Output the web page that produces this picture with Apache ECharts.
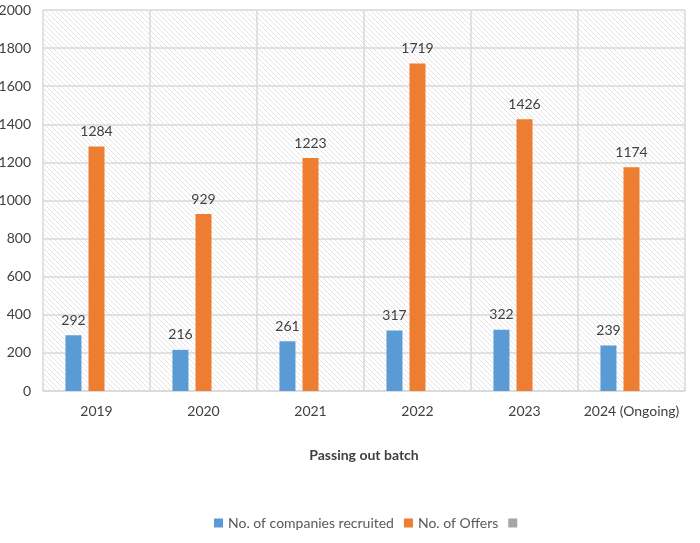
<!DOCTYPE html>
<html>
<head>
<meta charset="utf-8">
<script src="https://cdn.jsdelivr.net/npm/echarts@6/dist/echarts.min.js"></script>
<style>
  html, body { margin: 0; padding: 0; background: #fff; }
  #main { width: 700px; height: 543px; }
</style>
</head>
<body>
<div id="main"></div>
<script>
// chart data
const batches = ['2019', '2020', '2021', '2022', '2023', '2024 (Ongoing)']
const companies = [292, 216, 261, 317, 322, 239]
const offers = [1284, 929, 1223, 1719, 1426, 1174]
const blank = [null, null, null, null, null, null]

// diagonal hatch for the plot background
function hatch () {
  const c = document.createElement('canvas')
  c.width = 5
  c.height = 5
  const ctx = c.getContext('2d')
  ctx.fillStyle = '#ffffff'
  ctx.fillRect(0, 0, 5, 5)
  ctx.strokeStyle = '#e4e4e4'
  ctx.lineWidth = 1
  ctx.beginPath()
  ctx.moveTo(0, 0); ctx.lineTo(5, 5)
  ctx.moveTo(-3, 2); ctx.lineTo(3, 8)
  ctx.moveTo(2, -3); ctx.lineTo(8, 3)
  ctx.stroke()
  return c
}

const chart = echarts.init(document.getElementById('main'))
const font = 'Lato, Open Sans, sans-serif'
const label = {
  show: true,
  position: 'top',
  distance: 8,
  color: '#404040',
  fontFamily: font,
  fontSize: 14
}
chart.setOption({
  animation: false,
  grid: {
    left: 43,
    right: 15,
    top: 10,
    bottom: 152,
    outerBoundsMode: 'none',
    containLabel: false,
    show: true,
    borderWidth: 0,
    backgroundColor: { image: hatch(), repeat: 'repeat' }
  },
  legend: {
    bottom: 8,
    left: 209,
    itemWidth: 9,
    itemHeight: 9,
    itemGap: 10,
    icon: 'rect',
    textStyle: { color: '#595959', fontFamily: font, fontSize: 14 },
    data: ['No. of companies recruited', 'No. of Offers', ' ']
  },
  xAxis: {
    type: 'category',
    data: batches,
    name: 'Passing out batch',
    nameLocation: 'middle',
    nameGap: 57,
    nameTextStyle: { color: '#404040', fontWeight: 'bold', fontFamily: font, fontSize: 14 },
    axisLine: { lineStyle: { color: '#d9d9d9', width: 1.5 } },
    axisTick: { show: false },
    axisLabel: { interval: 0, color: '#404040', fontFamily: font, fontSize: 14, margin: 13 },
    splitLine: { show: true, interval: 0, lineStyle: { color: '#d9d9d9', width: 1.5 } }
  },
  yAxis: {
    type: 'value',
    min: 0,
    max: 2000,
    interval: 200,
    axisLine: { show: false },
    axisTick: { show: false },
    axisLabel: { color: '#404040', fontFamily: font, fontSize: 14, margin: 12, formatter: v => String(v) },
    splitLine: { lineStyle: { color: '#d9d9d9', width: 1.5 } }
  },
  series: [
    {
      name: 'No. of companies recruited',
      type: 'bar',
      data: companies,
      barWidth: 16,
      barGap: '44%',
      itemStyle: { color: '#5b9bd5' },
      label: label
    },
    {
      name: 'No. of Offers',
      type: 'bar',
      data: offers,
      barWidth: 16,
      itemStyle: { color: '#ed7d31' },
      label: label
    },
    {
      name: ' ',
      type: 'bar',
      data: blank,
      barWidth: 16,
      itemStyle: { color: '#a5a5a5' }
    }
  ]
})
</script>
</body>
</html>
